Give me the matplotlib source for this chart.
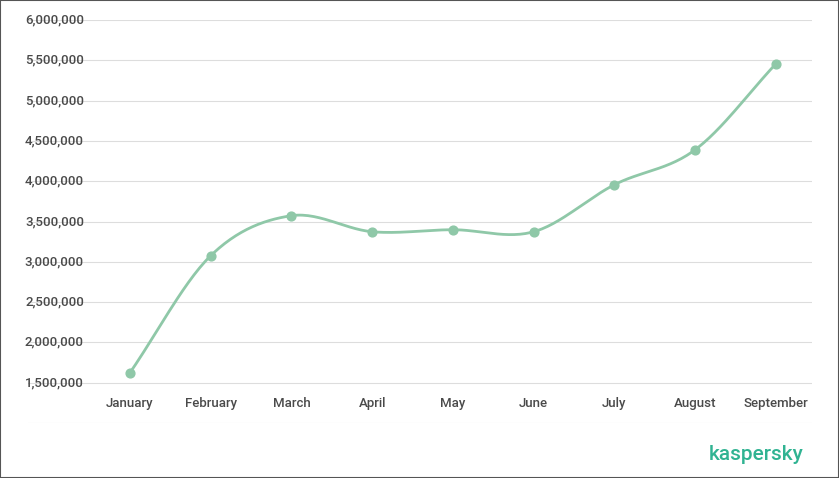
import numpy as np
import matplotlib.pyplot as plt
from matplotlib.patches import Rectangle

months = ["January", "February", "March", "April", "May", "June", "July", "August", "September"]
values = [1624000, 3076000, 3572000, 3373000, 3398000, 3373000, 3957000, 4391000, 5458000]
y_ticks = [1500000, 2000000, 2500000, 3000000, 3500000, 4000000, 4500000, 5000000, 5500000, 6000000]

green = "#8fc8a8"
text_col = "#4a4a4a"


def smooth(xs, ys, n=30, t=0.5):
    # cardinal spline through the points, only for drawing the curve
    xs = np.asarray(xs, float)
    ys = np.asarray(ys, float)
    px = np.concatenate([[2 * xs[0] - xs[1]], xs, [2 * xs[-1] - xs[-2]]])
    py = np.concatenate([[2 * ys[0] - ys[1]], ys, [2 * ys[-1] - ys[-2]]])
    outx, outy = [], []
    for i in range(1, len(px) - 2):
        s = np.linspace(0, 1, n)
        h1 = 2 * s**3 - 3 * s**2 + 1
        h2 = -2 * s**3 + 3 * s**2
        h3 = s**3 - 2 * s**2 + s
        h4 = s**3 - s**2
        mx1, mx2 = t * (px[i + 1] - px[i - 1]), t * (px[i + 2] - px[i])
        my1, my2 = t * (py[i + 1] - py[i - 1]), t * (py[i + 2] - py[i])
        outx.extend(h1 * px[i] + h2 * px[i + 1] + h3 * mx1 + h4 * mx2)
        outy.extend(h1 * py[i] + h2 * py[i + 1] + h3 * my1 + h4 * my2)
    return np.array(outx), np.array(outy)


fig = plt.figure(figsize=(8.39, 4.78), dpi=100)
fig.patches.append(Rectangle((0, 0), 1, 1, transform=fig.transFigure, fill=False,
                             edgecolor="#555555", linewidth=1.5))
ax = fig.add_axes([28 / 839, 55 / 478, 784 / 839, 403 / 478])
x = np.arange(len(months))
ax.set_xlim(-1.263, 8.446)
ax.set_ylim(1000000, 6000000)

for v in y_ticks:
    ax.axhline(v, color="#dddddd", linewidth=0.8, zorder=0)
    ax.text(-0.57, v, f"{v:,}", ha="right", va="center", fontsize=9.5,
            color=text_col, family="Roboto", fontweight="medium")
ax.axhline(1000000, color="#dddddd", linewidth=0.8, zorder=0)

for i, m in enumerate(months):
    ax.text(i, 1240000, m, ha="center", va="center", fontsize=9.5,
            color=text_col, family="Roboto", fontweight="medium")

sx, sy = smooth(x, values)
ax.plot(sx, sy, color=green, linewidth=2, zorder=2)
ax.scatter(x, values, color=green, s=40, zorder=3)

ax.set_xticks([])
ax.set_yticks([])
for s in ax.spines.values():
    s.set_visible(False)

fig.text(0.958, 0.03, "kaspersky", ha="right", va="bottom", fontsize=15,
         color="#30b392", family="Roboto", fontweight="medium")

fig.savefig("out.png", dpi=100)
